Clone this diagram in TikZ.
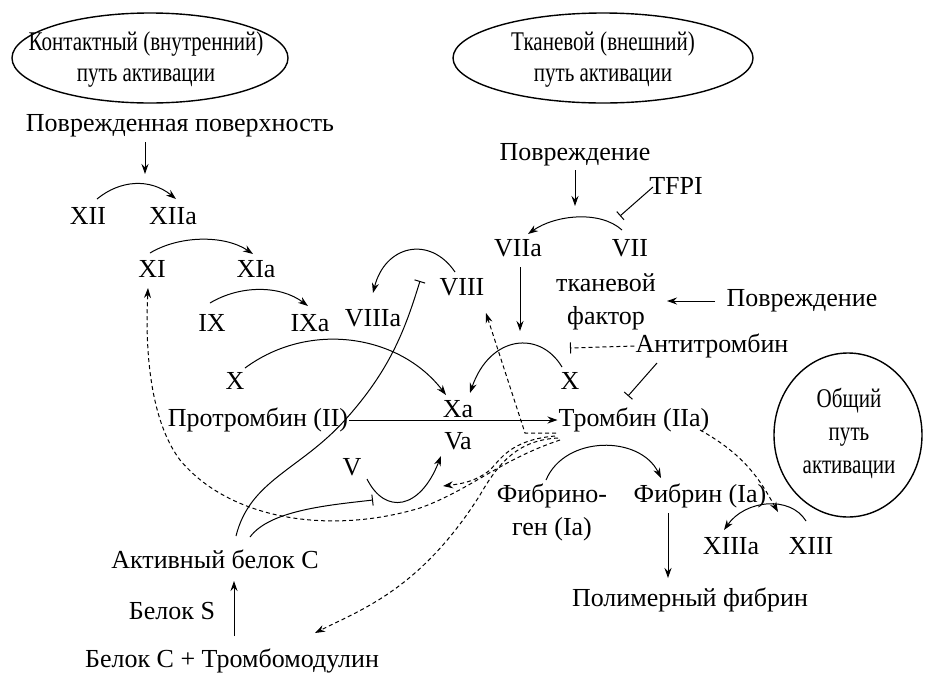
\documentclass[tikz,border=0pt]{standalone}
\usepackage{fontspec}
\setmainfont{Liberation Serif}
\newfontfamily\condfont{Liberation Serif}[FakeStretch=0.78]
\usetikzlibrary{arrows.meta}
\begin{document}
\begin{tikzpicture}[x=1pt,y=-1pt,
  lbl/.style={font=\fontsize{26}{33}\selectfont, inner sep=1pt, align=center},
  clbl/.style={font=\fontsize{27}{31}\condfont, inner sep=1pt, align=center},
  con/.style={line width=1pt,-{Stealth[length=10pt,width=7pt]}},
  inh/.style={line width=1pt,-{Bar[width=11pt]}},
  dsh/.style={line width=1pt,dashed,dash pattern=on 4pt off 3pt,-{Stealth[length=10pt,width=7pt]}},
  oval/.style={draw,line width=1.4pt}]
\useasboundingbox (0,0) rectangle (932,678);
\draw[oval] (150,58) ellipse [x radius=138, y radius=45];
\node[clbl] (e1) at (146,60) {Контактный (внутренний)\\путь активации};
\draw[oval] (603,58) ellipse [x radius=150, y radius=45];
\node[clbl] (e2) at (603,60) {Тканевой (внешний)\\путь активации};
\draw[oval] (848,435) ellipse [x radius=74, y radius=82];
\node[clbl, font=\fontsize{27}{33}\condfont] (e3) at (849,433) {Общий\\путь\\активации};

\node[lbl] (pp) at (180,126) {Поврежденная поверхность};
\node[lbl] (xii) at (88,216) {XII};
\node[lbl] (xiia) at (173,216) {XIIa};
\node[lbl] (xi) at (152,269) {XI};
\node[lbl] (xia) at (256,269) {XIa};
\node[lbl] (ix) at (212,323) {IX};
\node[lbl] (ixa) at (310,323) {IXa};
\node[lbl] (viiia) at (373,318) {VIIIa};
\node[lbl] (viii) at (462,287) {VIII};
\node[lbl] (xl) at (235,381) {X};
\node[lbl] (xa) at (458,409) {Xa};
\node[lbl] (va) at (458,441) {Va};
\node[lbl] (v) at (352,467) {V};
\node[lbl] (pt) at (258,420) {Протромбин (II)};
\node[lbl] (tr) at (634,420) {Тромбин (IIa)};
\node[lbl] (xr) at (570,381) {X};
\node[lbl] (viia) at (518,248) {VIIa};
\node[lbl] (vii) at (630,248) {VII};
\node[lbl] (pov1) at (575,155) {Повреждение};
\node[lbl] (tfpi) at (676,186) {TFPI};
\node[lbl] (tf) at (606,302) {тканевой\\фактор};
\node[lbl] (pov2) at (802,301) {Повреждение};
\node[lbl] (at) at (712,346) {Антитромбин};
\node[lbl] (fg) at (552,512) {Фибрино-\\ген (Ia)};
\node[lbl] (fb) at (700,496) {Фибрин (Ia)};
\node[lbl] (xiiia) at (731,546) {XIIIa};
\node[lbl] (xiii) at (811,546) {XIII};
\node[lbl] (pf) at (690,600) {Полимерный фибрин};
\node[lbl] (abc) at (215,559) {Активный белок С};
\node[lbl] (bs) at (172,611) {Белок S};
\node[lbl] (bct) at (232,661) {Белок С + Тромбомодулин};

% contact pathway
\draw[con] (145,142) -- (145,174);
\draw[con] (97,199) .. controls (120,180) and (150,178) .. (176,199);
\draw[con] (150,253) .. controls (180,235) and (225,235) .. (253,254);
\draw[con] (210,303) .. controls (240,285) and (280,285) .. (308,306);
\draw[con] (455,272) .. controls (430,235) and (385,245) .. (373,293);
\draw[con] (245,368) .. controls (310,320) and (400,335) .. (446,395);
\draw[con] (pt.east) -- (tr.west);
\draw[con] (562,367) .. controls (540,330) and (490,335) .. (470,393);
\draw[con] (367,479) .. controls (385,515) and (420,510) .. (441,456);

% extrinsic
\draw[con] (575,170) -- (575,206);
\draw[con] (622,230) .. controls (600,210) and (555,215) .. (528,234);
\draw[inh] (653,187) -- (620,216);
\draw[con] (520,267) -- (520,331);
\draw[con] (715,301) -- (667,301);
\draw[inh, dashed, dash pattern=on 4pt off 3pt] (at.west) -- (570,348);
\draw[inh] (657,363) -- (628,396);

% common
\draw[con] (546,480) .. controls (565,435) and (640,435) .. (661,478);
\draw[con] (668,513) -- (668,578);
\draw[con] (806,521) .. controls (790,495) and (745,500) .. (724,530);
\draw[dsh] (700,430) .. controls (745,455) and (760,480) .. (778,512);

% protein C
\draw[con] (234,636) -- (234,581);
\draw[inh] (236,536) .. controls (250,480) and (300,470) .. (345,420) .. controls (390,370) and (405,330) .. (420,281);
\draw[inh] (250,537) .. controls (270,510) and (330,505) .. (373,500);

% dashed from thrombin
\draw[dsh] (556,433) -- (525,433) -- (486,313);
\draw[dsh] (555,436) .. controls (510,440) and (500,460) .. (490,470) .. controls (475,482) and (460,484) .. (443,486);
\draw[dsh] (558,438) .. controls (520,440) and (500,460) .. (480,495) .. controls (420,590) and (360,610) .. (315,633);
\draw[dsh] (560,440) .. controls (500,460) and (470,490) .. (420,508) .. controls (330,535) and (230,520) .. (180,460) .. controls (150,420) and (145,350) .. (148,288);
\end{tikzpicture}
\end{document}
